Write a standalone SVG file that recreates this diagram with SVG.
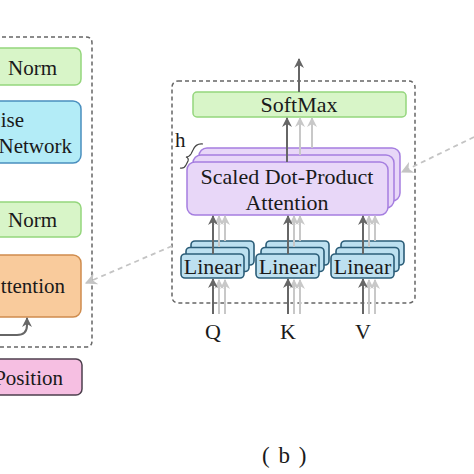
<svg xmlns="http://www.w3.org/2000/svg" width="474" height="474" viewBox="0 0 474 474">
<defs>
<marker id="ad" viewBox="0 0 10 10" refX="9" refY="5" markerWidth="10" markerHeight="10" markerUnits="userSpaceOnUse" orient="auto"><path d="M0,0 L10,5 L0,10 L3,5 z" fill="#666"/></marker>
<marker id="al" viewBox="0 0 10 10" refX="9" refY="5" markerWidth="10" markerHeight="10" markerUnits="userSpaceOnUse" orient="auto"><path d="M0,0 L10,5 L0,10 L3,5 z" fill="#c8c8c8"/></marker>
<marker id="ag" viewBox="0 0 10 10" refX="9" refY="5" markerWidth="12" markerHeight="12" markerUnits="userSpaceOnUse" orient="auto"><path d="M0,0 L10,5 L0,10 L3,5 z" fill="#c4c4c4"/></marker>
</defs>
<style>
text{font-family:"Liberation Serif","Times New Roman",serif;font-size:21px;fill:#1a1a1a}
.r{font-size:22px}
.border{fill:none;stroke:#666;stroke-width:1.5;stroke-dasharray:4 3}
.norm{fill:#d8f5c8;stroke:#94d67c;stroke-width:1.5}
.ffn{fill:#b3ecf7;stroke:#4a8fbf;stroke-width:1.5}
.att{fill:#f9cb9c;stroke:#cf8c4d;stroke-width:1.5}
.pos{fill:#f6bfe2;stroke:#4d3f4d;stroke-width:1.5}
.sdpa{fill:#e8d7f8;stroke:#a57ee0;stroke-width:1.5}
.lin{fill:#bde0f0;stroke:#2b5d78;stroke-width:1.6}
.dk{stroke:#666;stroke-width:2;fill:none}
.lt{stroke:#c8c8c8;stroke-width:2;fill:none}
.dash{stroke:#c4c4c4;stroke-width:1.8;stroke-dasharray:5 4;fill:none}
</style>

<g id="left-panel">
<path class="border" d="M-5,37 H86 Q92,37 92,43 V341 Q92,347 86,347 H-5"/>
</g>
<g id="norm-top"><rect class="norm" x="-30" y="48" width="111" height="37" rx="6"/><text x="8" y="75">Norm</text></g>
<g id="ffn"><rect class="ffn" x="-30" y="101" width="111" height="62" rx="8"/><text x="24" y="127" text-anchor="end">ise</text><text x="72" y="153" text-anchor="end">Network</text></g>
<g id="norm-mid"><rect class="norm" x="-30" y="202" width="111" height="35" rx="6"/><text x="8" y="227">Norm</text></g>
<g id="attention"><rect class="att" x="-30" y="255" width="111" height="62" rx="8"/><text x="65" y="293" text-anchor="end">ttention</text></g>
<g id="position"><rect class="pos" x="-30" y="359" width="112" height="36" rx="6"/><text x="63" y="385" text-anchor="end">Position</text></g>

<g id="right-panel"><rect class="border" x="172" y="81" width="243" height="222" rx="6"/></g>
<g id="softmax"><rect class="norm" x="193" y="92" width="213" height="25" rx="4"/><text class="r" x="299" y="112" text-anchor="middle">SoftMax</text></g>
<g id="sdpa">
<rect class="sdpa" x="199" y="148" width="201" height="53" rx="8"/>
<rect class="sdpa" x="193" y="155" width="201" height="53" rx="8"/>
<rect class="sdpa" x="187" y="162" width="201" height="53" rx="8"/>
<text class="r" x="287" y="184" text-anchor="middle">Scaled Dot-Product</text>
<text class="r" x="287" y="210" text-anchor="middle">Attention</text>
</g>
<g id="h-label"><text x="175" y="147">h</text><path d="M203,144 Q196,143 193,150 L191,154 Q189,157 186,157 Q189,158 188,161 L186,165 Q184,169 180,168" fill="none" stroke="#444" stroke-width="1.2"/></g>
<g id="linear-q">
<rect class="lin" x="191" y="241" width="63" height="24" rx="4"/>
<rect class="lin" x="186" y="247.5" width="63" height="24" rx="4"/>
<rect class="lin" x="181" y="254" width="63" height="24" rx="4"/>
<text class="r" x="212.5" y="274" text-anchor="middle">Linear</text>
</g>
<g id="linear-k">
<rect class="lin" x="266" y="241" width="63" height="24" rx="4"/>
<rect class="lin" x="261" y="247.5" width="63" height="24" rx="4"/>
<rect class="lin" x="256" y="254" width="63" height="24" rx="4"/>
<text class="r" x="287.5" y="274" text-anchor="middle">Linear</text>
</g>
<g id="linear-v">
<rect class="lin" x="341" y="241" width="63" height="24" rx="4"/>
<rect class="lin" x="336" y="247.5" width="63" height="24" rx="4"/>
<rect class="lin" x="331" y="254" width="63" height="24" rx="4"/>
<text class="r" x="362.5" y="274" text-anchor="middle">Linear</text>
</g>
<g id="q"><text class="r" x="213" y="339" text-anchor="middle">Q</text></g>
<g id="k"><text class="r" x="288" y="339" text-anchor="middle">K</text></g>
<g id="v"><text class="r" x="363" y="339" text-anchor="middle">V</text></g>
<g id="caption"><text x="285" y="463" text-anchor="middle" style="font-size:23px;letter-spacing:1.5px">( b )</text></g>

<g id="connectors">
<path class="dk" d="M299,92 V59" marker-end="url(#ad)"/>
<path class="lt" d="M312,148 V118" marker-end="url(#al)"/>
<path class="lt" d="M300,155 V118" marker-end="url(#al)"/>
<path class="dk" d="M287,162 V118" marker-end="url(#ad)"/>
<path class="lt" d="M225,241 V216" marker-end="url(#al)"/>
<path class="lt" d="M219,247 V216" marker-end="url(#al)"/>
<path class="dk" d="M213,254 V216" marker-end="url(#ad)"/>
<path class="lt" d="M300,241 V216" marker-end="url(#al)"/>
<path class="lt" d="M294,247 V216" marker-end="url(#al)"/>
<path class="dk" d="M288,254 V216" marker-end="url(#ad)"/>
<path class="lt" d="M375,241 V216" marker-end="url(#al)"/>
<path class="lt" d="M369,247 V216" marker-end="url(#al)"/>
<path class="dk" d="M363,254 V216" marker-end="url(#ad)"/>
<path class="lt" d="M225,314 V280" marker-end="url(#al)"/>
<path class="lt" d="M219,314 V280" marker-end="url(#al)"/>
<path class="dk" d="M213,314 V279" marker-end="url(#ad)"/>
<path class="lt" d="M300,314 V280" marker-end="url(#al)"/>
<path class="lt" d="M294,314 V280" marker-end="url(#al)"/>
<path class="dk" d="M288,314 V279" marker-end="url(#ad)"/>
<path class="lt" d="M375,314 V280" marker-end="url(#al)"/>
<path class="lt" d="M369,314 V280" marker-end="url(#al)"/>
<path class="dk" d="M363,314 V279" marker-end="url(#ad)"/>
<path class="dk" d="M-5,335 H17 Q27,335 27,325 V318" marker-end="url(#ad)"/>
<path class="dash" d="M172,246 L86,283" marker-end="url(#ag)"/>
<path class="dash" d="M474,137 L402,172" marker-end="url(#ag)"/>
</g>
</svg>
